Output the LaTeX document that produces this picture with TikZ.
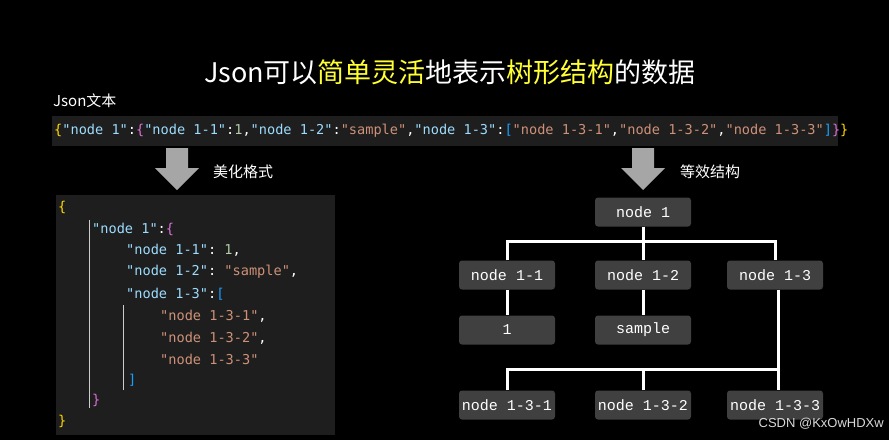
\documentclass[tikz,border=0pt]{standalone}
\usepackage{fontspec}
\setmonofont{DejaVu Sans Mono}
\newfontfamily\cjk{Noto Sans CJK SC}
\newfontfamily\tmono{Liberation Mono}
\definecolor{kb}{HTML}{9CDCFE}
\definecolor{so}{HTML}{CE9178}
\definecolor{nm}{HTML}{B5CEA8}
\definecolor{yb}{HTML}{FFD700}
\definecolor{pb}{HTML}{DA70D6}
\definecolor{bb}{HTML}{179FFF}
\definecolor{ed}{HTML}{1E1E1E}
\definecolor{tn}{HTML}{404040}
\definecolor{ty}{HTML}{FFFF33}
\newcommand{\K}[1]{\textcolor{kb}{#1}}
\newcommand{\Sg}[1]{\textcolor{so}{#1}}
\newcommand{\W}[1]{\textcolor{white}{#1}}
\begin{document}
\begin{tikzpicture}[x=1pt,y=-1pt,
  tnode/.style={fill=tn,rounded corners=3pt,minimum width=96pt,minimum height=29pt,text=white,font=\tmono\fontsize{15}{15}\selectfont,inner sep=0pt},
  cl/.style={anchor=west,font=\ttfamily\fontsize{13.6}{14}\selectfont,inner sep=0pt},
  garrow/.style={fill=gray!70},
  link/.style={white,line width=3pt}]
\useasboundingbox[fill=black] (0,0) rectangle (889,440);
\node (title) at (450,72) {\cjk\fontsize{27}{27}\selectfont\W{Json可以}\textcolor{ty}{简单灵活}\W{地表示}\textcolor{ty}{树形结构}\W{的数据}};
\node[anchor=west,text=white,inner sep=0pt] (jt) at (53,101) {\cjk\fontsize{15}{15}\selectfont Json文本};
\fill[ed] (52,116) rectangle (838,146);
\node[cl] (line) at (54,131) {\textcolor{yb}{\{}\K{"node 1"}\W{:}\textcolor{pb}{\{}\K{"node 1-1"}\W{:}\textcolor{nm}{1}\W{,}\K{"node 1-2"}\W{:}\Sg{"sample"}\W{,}\K{"node 1-3"}\W{:}\textcolor{bb}{[}\Sg{"node 1-3-1"}\W{,}\Sg{"node 1-3-2"}\W{,}\Sg{"node 1-3-3"}\textcolor{bb}{]}\textcolor{pb}{\}}\textcolor{yb}{\}}};
\foreach \ax in {177,643}
  \fill[garrow] (\ax-11,148) -- (\ax+11,148) -- (\ax+11,168) -- (\ax+22,168) -- (\ax,190) -- (\ax-22,168) -- (\ax-11,168) -- cycle;
\node[anchor=west,text=white,inner sep=0pt] (l1) at (213,172) {\cjk\fontsize{15}{15}\selectfont 美化格式};
\node[anchor=west,text=white,inner sep=0pt] (l2) at (680,172) {\cjk\fontsize{15}{15}\selectfont 等效结构};
\fill[ed] (56,195) rectangle (335,435);
\draw[gray!40,line width=0.6pt] (89,220) -- (89,408) (123,305) -- (123,390);
\node[cl] (c1) at (58,207) {\textcolor{yb}{\{}};
\node[cl] (c2) at (92,229) {\K{"node 1"}\W{:}\textcolor{pb}{\{}};
\node[cl] (c3) at (126,250) {\K{"node 1-1"}\W{: }\textcolor{nm}{1}\W{,}};
\node[cl] (c4) at (126,272) {\K{"node 1-2"}\W{: }\Sg{"sample"}\W{,}};
\node[cl] (c5) at (126,294) {\K{"node 1-3"}\W{:}\textcolor{bb}{[}};
\node[cl] (c6) at (160,316) {\Sg{"node 1-3-1"}\W{,}};
\node[cl] (c7) at (160,338) {\Sg{"node 1-3-2"}\W{,}};
\node[cl] (c8) at (160,359) {\Sg{"node 1-3-3"}};
\node[cl] (c9) at (128,380) {\textcolor{bb}{]}};
\node[cl] (c10) at (92,400) {\textcolor{pb}{\}}};
\node[cl] (c11) at (58,421) {\textcolor{yb}{\}}};
\node[tnode] (n1) at (643,212) {node 1};
\node[tnode] (n11) at (507,275) {node 1-1};
\node[tnode] (n12) at (643,275) {node 1-2};
\node[tnode] (n13) at (775,275) {node 1-3};
\node[tnode] (v1) at (507,330) {1};
\node[tnode] (v2) at (643,330) {sample};
\node[tnode] (n131) at (507,405) {node 1-3-1};
\node[tnode] (n132) at (643,405) {node 1-3-2};
\node[tnode] (n133) at (775,405) {node 1-3-3};
\coordinate (j1) at (643,241);
\coordinate (j2) at (778,369);
\draw[link] (n1.south) -- (j1);
\draw[link] (n11.north) |- (j1) -| (n13.north);
\draw[link] (j1) -- (n12.north);
\draw[link] (n11.south) -- (v1.north);
\draw[link] (n12.south) -- (v2.north);
\draw[link] (n13.south -| j2) -- (j2);
\draw[link] (n131.north) |- (j2) -- (n133.north -| j2);
\draw[link] (n132.north) -- (n132.north |- j2);
\node[anchor=east,text=white!85!black,inner sep=0pt] (wm) at (884,424) {\fontspec{Liberation Sans}\fontsize{13}{13}\selectfont CSDN @KxOwHDXw};
\end{tikzpicture}
\end{document}
